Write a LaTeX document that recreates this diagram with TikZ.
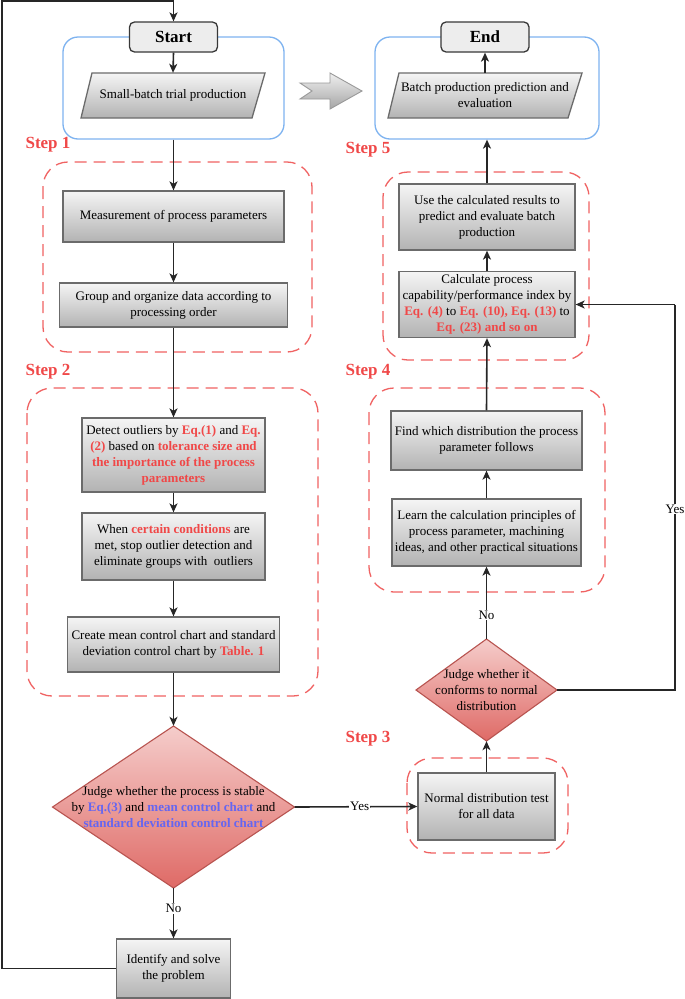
\documentclass[tikz,border=0pt]{standalone}
\usepackage{fontspec}
\setmainfont{Liberation Serif}
\usetikzlibrary{arrows.meta}
\definecolor{redtxt}{HTML}{F04848}
\definecolor{bluetxt}{HTML}{6666F0}
\definecolor{dashred}{HTML}{F06262}
\definecolor{blueline}{HTML}{7EB3F0}
\definecolor{diaedge}{HTML}{B85450}
\definecolor{diatop}{HTML}{F5CDCB}
\definecolor{diabot}{HTML}{DF6A66}
\newcommand{\rr}[1]{\textbf{\textcolor{redtxt}{#1}}}
\newcommand{\bb}[1]{\textbf{\textcolor{bluetxt}{#1}}}
\tikzset{
  txt/.style={font=\fontsize{13}{16}\selectfont, align=center, inner sep=0pt},
  graybox/.style={txt, draw=black!58, line width=1.3pt, top color=black!4, bottom color=black!30},
  termbox/.style={draw=black!78, line width=1.3pt, fill=black!7, rounded corners=5pt,
    font=\fontsize{17}{20}\selectfont\bfseries, minimum width=88pt, minimum height=30pt},
  bluecont/.style={draw=blueline, line width=1.3pt, rounded corners=15pt},
  stepcont/.style={draw=dashred, line width=1.3pt, dash pattern=on 12pt off 7pt, rounded corners=25pt},
  steplabel/.style={text=redtxt, font=\fontsize{17}{20}\selectfont\bfseries},
  plain/.style={txt},
  conn/.style={draw=black!85, line width=1.6pt, -{Stealth[length=9pt,width=8pt,inset=2.5pt]}},
  line/.style={draw=black!85, line width=1.6pt},
  lab/.style={fill=white, font=\fontsize{13}{16}\selectfont, inner sep=1pt},
}
\begin{document}
\begin{tikzpicture}[x=1pt,y=-1pt]
\useasboundingbox (0,0) rectangle (685,999);
\fill[white] (0,0) rectangle (685,999);

% containers
\node[bluecont, minimum width=221pt, minimum height=102pt] (blue1) at (173.5,88) {};
\node[bluecont, minimum width=224pt, minimum height=102pt] (blue2) at (487,88) {};
\draw[stepcont] (43,162) rectangle (312,352);
\draw[stepcont] (27,388) rectangle (318,696);
\draw[stepcont] (407,758) rectangle (568,853);
\draw[stepcont] (369,388) rectangle (605,592);
\draw[stepcont] (383,172) rectangle (589,360);

% step labels
\node[steplabel] (l1) at (48,145) {Step 1};
\node[steplabel] (l2) at (48,372) {Step 2};
\node[steplabel] (l3) at (368,739) {Step 3};
\node[steplabel] (l4) at (368,372) {Step 4};
\node[steplabel] (l5) at (368,150) {Step 5};

% middle big arrow
\shade[top color=black!6, bottom color=black!35, draw=black!40, line width=0.9pt]
  (300,83) -- (330,83) -- (330,73) -- (362,91) -- (330,109) -- (330,99) -- (300,99) -- (312,91) -- cycle;

% terminals
\node[termbox] (start) at (173.5,37) {Start};
\node[termbox] (end) at (485,37) {End};

% parallelograms
\shade[top color=black!4, bottom color=black!30, draw=black!58, line width=1.3pt]
  (92,73) -- (265,73) -- (252,118) -- (81,118) -- cycle;
\node[plain, minimum width=170pt, minimum height=45pt] (sp) at (173,95.5) {Small-batch trial production};
\shade[top color=black!4, bottom color=black!30, draw=black!58, line width=1.3pt]
  (399,73) -- (582,73) -- (568,118) -- (388,118) -- cycle;
\node[plain, minimum width=170pt, minimum height=45pt] (bp) at (485,95.5) {Batch production prediction and\\evaluation};

% left column
\node[graybox, minimum width=221pt, minimum height=51pt] (meas) at (173.5,216.5) {Measurement of process parameters};
\node[graybox, minimum width=228pt, minimum height=44pt] (group) at (173.5,305) {Group and organize data according to\\processing order};
\node[graybox, minimum width=183pt, minimum height=74pt] (detect) at (173.5,455) {Detect outliers by \rr{Eq.(1)} and \rr{Eq.}\\\rr{(2)} based on \rr{tolerance size and}\\\rr{the importance of the process}\\\rr{parameters}};
\node[graybox, minimum width=183pt, minimum height=67pt] (when) at (173.5,546.5) {When \rr{certain conditions} are\\met, stop outlier detection and\\eliminate groups with\ \ outliers};
\node[graybox, minimum width=212pt, minimum height=55pt] (create) at (173.5,644.5) {Create mean control chart and standard\\deviation control chart by \rr{Table. 1}};

% diamond 1
\shade[top color=diatop, bottom color=diabot, draw=diaedge, line width=1.1pt]
  (173.5,726) -- (294.5,807) -- (173.5,888) -- (52.5,807) -- cycle;
\node[plain, minimum width=242pt, minimum height=162pt] (d1) at (173.5,807) {Judge whether the process is stable\\by \bb{Eq.(3)} and \bb{mean control chart} and\\\bb{standard deviation control chart}};

\node[graybox, minimum width=114pt, minimum height=59pt] (ident) at (173.5,968.5) {Identify and solve\\the problem};

% right column
\node[graybox, minimum width=176pt, minimum height=66pt] (use) at (487,217) {Use the calculated results to\\predict and evaluate batch\\production};
\node[graybox, minimum width=176pt, minimum height=66pt] (calc) at (487,304.5) {Calculate process\\capability/performance index by\\\rr{Eq. (4)} to \rr{Eq. (10), Eq. (13)} to\\\rr{Eq. (23) and so on}};
\node[graybox, minimum width=191pt, minimum height=59pt] (find) at (486.5,440.5) {Find which distribution the process\\parameter follows};
\node[graybox, minimum width=189pt, minimum height=67pt] (learn) at (486.5,532.5) {Learn the calculation principles of\\process parameter, machining\\ideas, and other practical situations};

\shade[top color=diatop, bottom color=diabot, draw=diaedge, line width=1.1pt]
  (486.5,639) -- (557,690) -- (486.5,741) -- (416,690) -- cycle;
\node[plain, minimum width=141pt, minimum height=102pt] (d2) at (486.5,690) {Judge whether it\\conforms to normal\\distribution};

\node[graybox, minimum width=137pt, minimum height=67pt] (normal) at (486.5,806.5) {Normal distribution test\\for all data};

% connectors left
\coordinate (lc) at (2,1);
\draw[conn] (ident.west) -| (lc) -| (start.north);
\draw[conn] (start.south) -- (sp.north);
\draw[conn] (blue1.south) -- (meas.north);
\draw[conn] (meas.south) -- (group.north);
\draw[conn] (group.south) -- (detect.north);
\draw[conn] (detect.south) -- (when.north);
\draw[conn] (when.south) -- (create.north);
\draw[conn] (create.south) -- (d1.north);
\draw[conn] (d1.south) -- node[lab, pos=0.4] {No} (ident.north);
\draw[conn] (d1.east) -- node[lab, pos=0.53] {Yes} (normal.west);

% connectors right
\draw[conn] (normal.north) -- (d2.south);
\draw[conn] (d2.north) -- node[lab, pos=0.33] {No} (learn.south);
\draw[conn] (learn.north) -- (find.south);
\draw[conn] (find.north) -- (calc.south);
\draw[conn] (calc.north) -- (use.south);
\draw[conn] (use.north) -- (blue2.south);
\draw[conn] (bp.north) -- (end.south);
\coordinate (rc) at (675,690);
\draw[line] (d2.east) -- (rc) -- node[lab, pos=0.47] {Yes} (rc |- calc.east);
\draw[conn] (rc |- calc.east) -- (calc.east);
\end{tikzpicture}
\end{document}
